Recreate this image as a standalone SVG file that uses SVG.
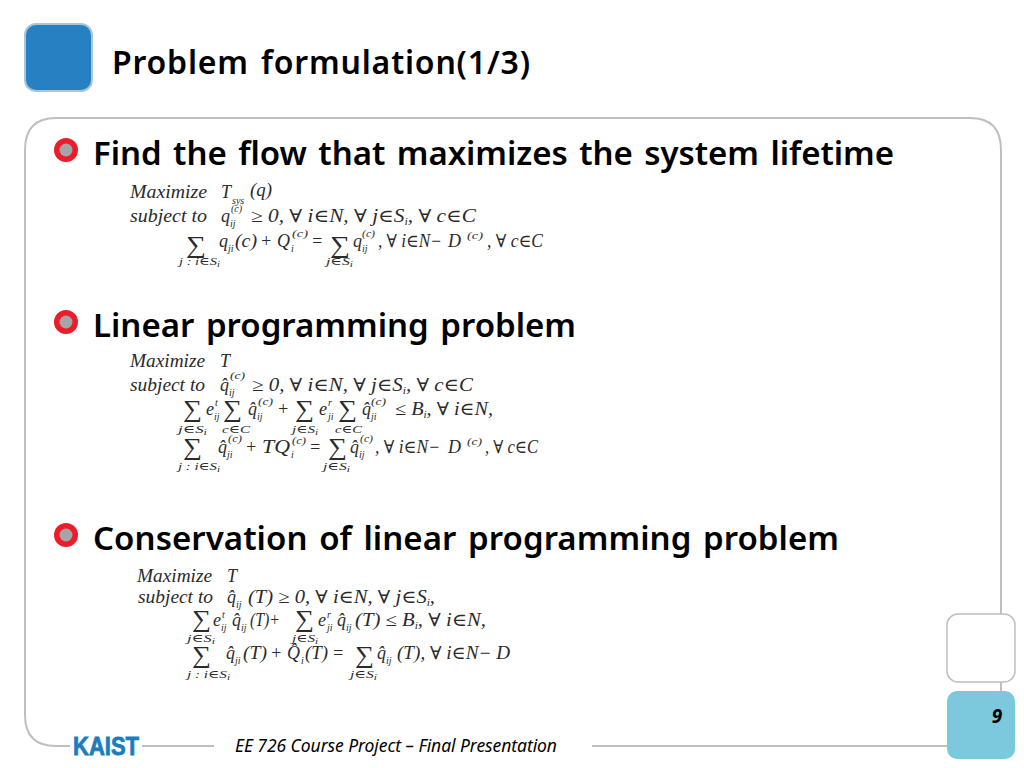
<svg xmlns="http://www.w3.org/2000/svg" width="1024" height="768" viewBox="0 0 1024 768">
<style>
.h{font-family:"Noto Sans","Open Sans","Liberation Sans",sans-serif;font-weight:600;fill:#000;word-spacing:3px}
.m{font-family:"Liberation Serif","DejaVu Serif",serif;font-style:italic;font-size:18px;fill:#2a2a2a}
.s{font-size:10px}
.b{font-size:11px}
.u{font-family:"Liberation Serif","DejaVu Serif",serif;font-style:normal;font-size:24px;fill:#2a2a2a}
.ln{fill:none;stroke:#bfbfbf;stroke-width:2}
</style>
<defs>
<g id="bullet"><circle cx="0" cy="0" r="12" fill="#ec1c2b"/><circle cx="0" cy="0" r="6.5" fill="#a5a5a8"/></g>
</defs>
<rect width="1024" height="768" fill="#fff"/>
<g id="frame">
<path class="ln" d="M214 746H56Q25 746 25 715V150Q25 118 56 118H970Q1001 118 1001 150V614"/>
<path class="ln" d="M592 746H948"/>
<path class="ln" d="M1001 682V692"/>
</g>
<g id="title-box"><rect x="25" y="24" width="67" height="67" rx="11" fill="#2680c2" stroke="#a9c5da" stroke-width="2"/></g>
<text id="title" class="h" x="112" y="74" font-size="32" textLength="418">Problem formulation(1/3)</text>
<g id="item1">
<use href="#bullet" x="66" y="150"/>
<text class="h" x="93" y="165" font-size="33" textLength="801">Find the flow that maximizes the system lifetime</text>
<g id="eq1">
<text class="m" x="130" y="198" textLength="77" lengthAdjust="spacingAndGlyphs">Maximize</text><text class="m" x="221" y="198">T</text><text class="m s" x="232" y="204">sys</text><text class="m" x="250" y="196" textLength="22" lengthAdjust="spacingAndGlyphs">(q)</text>
<text class="m" x="130" y="222" textLength="77" lengthAdjust="spacingAndGlyphs">subject to</text><text class="m" x="221" y="222">q</text><text class="m s" x="231" y="212">(c)</text><text class="m s" x="230" y="227">ij</text><text class="m" x="251" y="222" textLength="225" lengthAdjust="spacingAndGlyphs">≥ 0, ∀ i∈N, ∀ j∈S<tspan dy="3" font-size="10">i</tspan><tspan dy="-3">, ∀ c∈C</tspan></text>
<text class="u" x="186" y="253" textLength="20" lengthAdjust="spacingAndGlyphs">∑</text><text class="m b" x="179" y="265" textLength="41" lengthAdjust="spacingAndGlyphs">j : i∈S<tspan dy="2" font-size="8">i</tspan></text>
<text class="m" x="219" y="247">q</text><text class="m s" x="228" y="252">ji</text><text class="m" x="235" y="247" textLength="22" lengthAdjust="spacingAndGlyphs">(c)</text><text class="m" x="260" y="247">+</text><text class="m" x="277" y="247">Q</text><text class="m s" x="292" y="237" textLength="16" lengthAdjust="spacingAndGlyphs">(c)</text><text class="m s" x="291" y="252">i</text><text class="m" x="311" y="247">=</text>
<text class="u" x="330" y="253" textLength="20" lengthAdjust="spacingAndGlyphs">∑</text><text class="m b" x="326" y="265" textLength="27" lengthAdjust="spacingAndGlyphs">j∈S<tspan dy="2" font-size="8">i</tspan></text>
<text class="m" x="353" y="247">q</text><text class="m s" x="362" y="237" textLength="13" lengthAdjust="spacingAndGlyphs">(c)</text><text class="m s" x="362" y="252">ij</text><text class="m" x="378" y="247" textLength="64" lengthAdjust="spacingAndGlyphs">, ∀ i∈N−</text><text class="m" x="448" y="247">D</text><text class="m s" x="467" y="239" textLength="16" lengthAdjust="spacingAndGlyphs">(c)</text><text class="m" x="487" y="247" textLength="56" lengthAdjust="spacingAndGlyphs">, ∀ c∈C</text>
</g>
</g>
<g id="item2">
<use href="#bullet" x="66" y="322"/>
<text class="h" x="93" y="337" font-size="33" textLength="483">Linear programming problem</text>
<g id="eq2">
<text class="m" x="130" y="367" textLength="75" lengthAdjust="spacingAndGlyphs">Maximize</text><text class="m" x="220" y="367">T</text>
<text class="m" x="130" y="391" textLength="75" lengthAdjust="spacingAndGlyphs">subject to</text><text class="m" x="220" y="391">q̂</text><text class="m s" x="230" y="379" textLength="15" lengthAdjust="spacingAndGlyphs">(c)</text><text class="m s" x="229" y="396">ij</text><text class="m" x="252" y="391" textLength="221" lengthAdjust="spacingAndGlyphs">≥ 0, ∀ i∈N, ∀ j∈S<tspan dy="3" font-size="10">i</tspan><tspan dy="-3">, ∀ c∈C</tspan></text>
<text class="u" x="183" y="417" textLength="19" lengthAdjust="spacingAndGlyphs">∑</text><text class="m b" x="178" y="433" textLength="29" lengthAdjust="spacingAndGlyphs">j∈S<tspan dy="2" font-size="8">i</tspan></text>
<text class="m" x="206" y="415">e</text><text class="m s" x="215" y="406">t</text><text class="m s" x="214" y="420">ij</text>
<text class="u" x="223" y="417" textLength="19" lengthAdjust="spacingAndGlyphs">∑</text><text class="m b" x="222" y="433" textLength="28" lengthAdjust="spacingAndGlyphs">c∈C</text>
<text class="m" x="248" y="415">q̂</text><text class="m s" x="258" y="405" textLength="15" lengthAdjust="spacingAndGlyphs">(c)</text><text class="m s" x="257" y="420">ij</text><text class="m" x="277" y="415">+</text>
<text class="u" x="295" y="417" textLength="19" lengthAdjust="spacingAndGlyphs">∑</text><text class="m b" x="292" y="433" textLength="26" lengthAdjust="spacingAndGlyphs">j∈S<tspan dy="2" font-size="8">i</tspan></text>
<text class="m" x="319" y="415">e</text><text class="m s" x="328" y="406">r</text><text class="m s" x="328" y="420">ji</text>
<text class="u" x="338" y="417" textLength="19" lengthAdjust="spacingAndGlyphs">∑</text><text class="m b" x="335" y="433" textLength="27" lengthAdjust="spacingAndGlyphs">c∈C</text>
<text class="m" x="362" y="415">q̂</text><text class="m s" x="371" y="405" textLength="15" lengthAdjust="spacingAndGlyphs">(c)</text><text class="m s" x="371" y="420">ji</text>
<text class="m" x="395" y="415" textLength="98" lengthAdjust="spacingAndGlyphs">≤ B<tspan dy="3" font-size="10">i</tspan><tspan dy="-3">, ∀ i∈N,</tspan></text>
<text class="u" x="183" y="455" textLength="19" lengthAdjust="spacingAndGlyphs">∑</text><text class="m b" x="178" y="470" textLength="42" lengthAdjust="spacingAndGlyphs">j : i∈S<tspan dy="2" font-size="8">i</tspan></text>
<text class="m" x="218" y="453">q̂</text><text class="m s" x="228" y="442" textLength="14" lengthAdjust="spacingAndGlyphs">(c)</text><text class="m s" x="227" y="458">ji</text><text class="m" x="245" y="453">+</text><text class="m" x="262" y="453" textLength="28" lengthAdjust="spacingAndGlyphs">TQ</text><text class="m s" x="292" y="444" textLength="14" lengthAdjust="spacingAndGlyphs">(c)</text><text class="m s" x="291" y="458">i</text><text class="m" x="309" y="453">=</text>
<text class="u" x="328" y="455" textLength="19" lengthAdjust="spacingAndGlyphs">∑</text><text class="m b" x="323" y="470" textLength="27" lengthAdjust="spacingAndGlyphs">j∈S<tspan dy="2" font-size="8">i</tspan></text>
<text class="m" x="350" y="453">q̂</text><text class="m s" x="360" y="442" textLength="13" lengthAdjust="spacingAndGlyphs">(c)</text><text class="m s" x="359" y="458">ij</text><text class="m" x="375" y="453" textLength="65" lengthAdjust="spacingAndGlyphs">, ∀ i∈N−</text><text class="m" x="448" y="453">D</text><text class="m s" x="467" y="445" textLength="15" lengthAdjust="spacingAndGlyphs">(c)</text><text class="m" x="485" y="453" textLength="53" lengthAdjust="spacingAndGlyphs">, ∀ c∈C</text>
</g>
</g>
<g id="item3">
<use href="#bullet" x="66" y="535"/>
<text class="h" x="93" y="550" font-size="33" textLength="746">Conservation of linear programming problem</text>
<g id="eq3">
<text class="m" x="137" y="582" textLength="75" lengthAdjust="spacingAndGlyphs">Maximize</text><text class="m" x="227" y="582">T</text>
<text class="m" x="138" y="603" textLength="75" lengthAdjust="spacingAndGlyphs">subject to</text><text class="m" x="227" y="603">q̂</text><text class="m s" x="236" y="608">ij</text><text class="m" x="248" y="603" textLength="187" lengthAdjust="spacingAndGlyphs">(T) ≥ 0, ∀ i∈N, ∀ j∈S<tspan dy="3" font-size="10">i</tspan><tspan dy="-3">,</tspan></text>
<text class="u" x="192" y="627" textLength="19" lengthAdjust="spacingAndGlyphs">∑</text><text class="m b" x="187" y="642" textLength="28" lengthAdjust="spacingAndGlyphs">j∈S<tspan dy="2" font-size="8">i</tspan></text>
<text class="m" x="213" y="626">e</text><text class="m s" x="222" y="618">t</text><text class="m s" x="221" y="631">ij</text><text class="m" x="232" y="626">q̂</text><text class="m s" x="241" y="631">ij</text><text class="m" x="250" y="626" textLength="30" lengthAdjust="spacingAndGlyphs">(T)+</text>
<text class="u" x="295" y="627" textLength="19" lengthAdjust="spacingAndGlyphs">∑</text><text class="m b" x="292" y="642" textLength="26" lengthAdjust="spacingAndGlyphs">j∈S<tspan dy="2" font-size="8">i</tspan></text>
<text class="m" x="318" y="626">e</text><text class="m s" x="327" y="618">r</text><text class="m s" x="327" y="631">ji</text><text class="m" x="337" y="626">q̂</text><text class="m s" x="346" y="631">ij</text><text class="m" x="355" y="626" textLength="131" lengthAdjust="spacingAndGlyphs">(T) ≤ B<tspan dy="3" font-size="10">i</tspan><tspan dy="-3">, ∀ i∈N,</tspan></text>
<text class="u" x="192" y="663" textLength="19" lengthAdjust="spacingAndGlyphs">∑</text><text class="m b" x="187" y="678" textLength="43" lengthAdjust="spacingAndGlyphs">j : i∈S<tspan dy="2" font-size="8">i</tspan></text>
<text class="m" x="226" y="659">q̂</text><text class="m s" x="235" y="664">ji</text><text class="m" x="243" y="659" textLength="24" lengthAdjust="spacingAndGlyphs">(T)</text><text class="m" x="270" y="659">+</text><text class="m" x="287" y="659">Q̂</text><text class="m s" x="301" y="664">i</text><text class="m" x="305" y="659" textLength="23" lengthAdjust="spacingAndGlyphs">(T)</text><text class="m" x="332" y="659">=</text>
<text class="u" x="355" y="663" textLength="19" lengthAdjust="spacingAndGlyphs">∑</text><text class="m b" x="350" y="678" textLength="27" lengthAdjust="spacingAndGlyphs">j∈S<tspan dy="2" font-size="8">i</tspan></text>
<text class="m" x="377" y="659">q̂</text><text class="m s" x="386" y="664">ij</text><text class="m" x="397" y="659" textLength="113" lengthAdjust="spacingAndGlyphs">(T), ∀ i∈N− D</text>
</g>
</g>
<g id="logo"><rect x="70" y="734" width="72" height="24" fill="#fff"/><text x="73" y="755" font-family="Liberation Sans,sans-serif" font-weight="700" font-size="25" fill="#1b7dbd" stroke="#1b7dbd" stroke-width="0.8" textLength="66" lengthAdjust="spacingAndGlyphs">KAIST</text></g>
<text id="footer" x="235" y="752" font-family="Noto Sans,Open Sans,sans-serif" font-style="italic" font-size="17.5" fill="#000" textLength="322">EE 726 Course Project – Final Presentation</text>
<g id="blank-box"><rect x="947" y="614" width="68" height="68" rx="11" fill="#fff" stroke="#bfbfbf" stroke-width="1.5"/></g>
<g id="page-box"><rect x="947" y="691" width="68" height="68" rx="10" fill="#7cc9de"/><text x="997" y="723" text-anchor="middle" font-family="Noto Sans,sans-serif" font-weight="700" font-style="italic" font-size="19" fill="#000">9</text></g>
</svg>
